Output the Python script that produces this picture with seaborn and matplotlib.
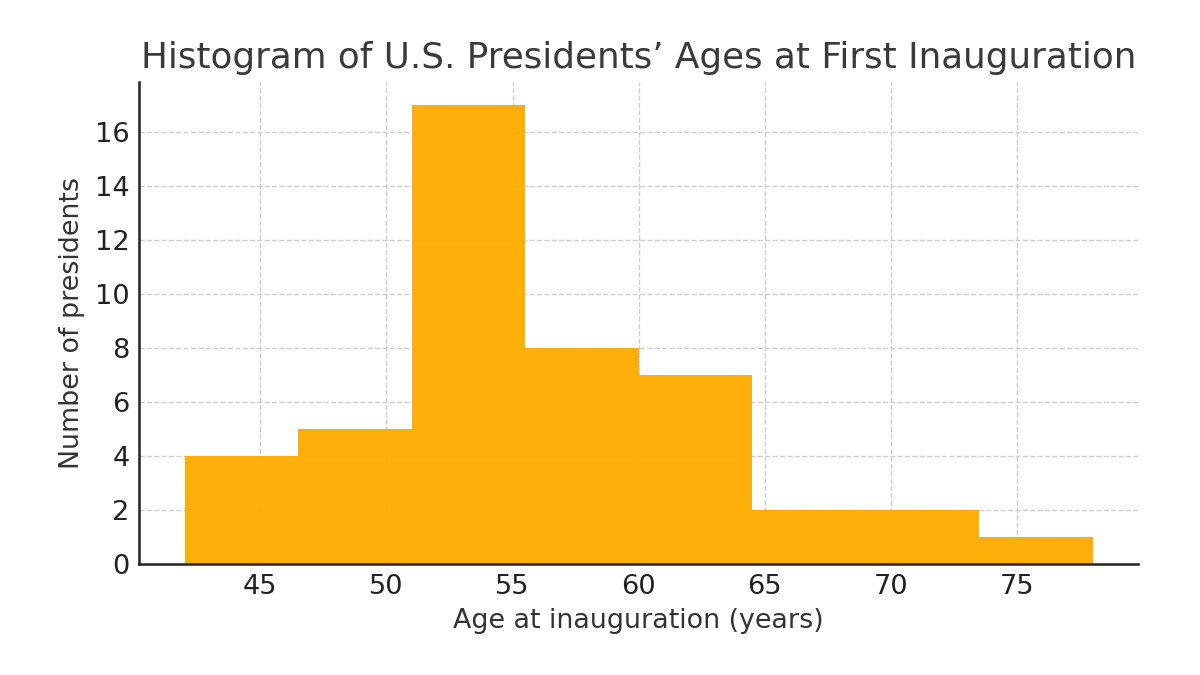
import numpy as np
import seaborn as sns
import matplotlib
matplotlib.use("Agg")
import matplotlib.pyplot as plt

# bins and counts
bin_edges = [42, 46.5, 51, 55.5, 60, 64.5, 69, 73.5, 78]
counts = [4, 5, 17, 8, 7, 2, 2, 1]
bin_centers = [(a + b) / 2 for a, b in zip(bin_edges[:-1], bin_edges[1:])]

sns.set_style("white")
plt.rcParams['font.family'] = ['DejaVu Sans']
plt.rcParams['text.color'] = '#333333'
plt.rcParams['axes.labelcolor'] = '#333333'
plt.rcParams['xtick.color'] = '#222222'
plt.rcParams['ytick.color'] = '#222222'

fig, ax = plt.subplots(figsize=(6, 3.375), dpi=200)
fig.subplots_adjust(left=0.116, right=0.9486, bottom=0.164, top=0.879)

ax.grid(True, linestyle='--', color='#cfcfcf', linewidth=0.5, zorder=0)
sns.histplot(x=bin_centers, weights=counts, bins=bin_edges, ax=ax,
             color='#FFAC00', alpha=0.96, linewidth=0, zorder=2)

ax.set_title("Histogram of U.S. Presidents’ Ages at First Inauguration",
             fontsize=12.9, color='#3a3a3a', pad=5)
ax.set_xlabel("Age at inauguration (years)", fontsize=9.7, labelpad=3)
ax.set_ylabel("Number of presidents", fontsize=9.7, labelpad=3.5)
ax.set_xticks([45, 50, 55, 60, 65, 70, 75])
ax.set_yticks(np.arange(0, 17, 2))
ax.tick_params(direction='in', length=3.5, width=0.8, labelsize=9.8)
ax.set_xlim(40.2, 79.8)
ax.set_ylim(0, 17.85)

ax.spines['top'].set_visible(False)
ax.spines['right'].set_visible(False)
for s in ['left', 'bottom']:
    ax.spines[s].set_color('#222222')
    ax.spines[s].set_linewidth(0.9)

fig.savefig('out.png', dpi=200)
plt.close(fig)
